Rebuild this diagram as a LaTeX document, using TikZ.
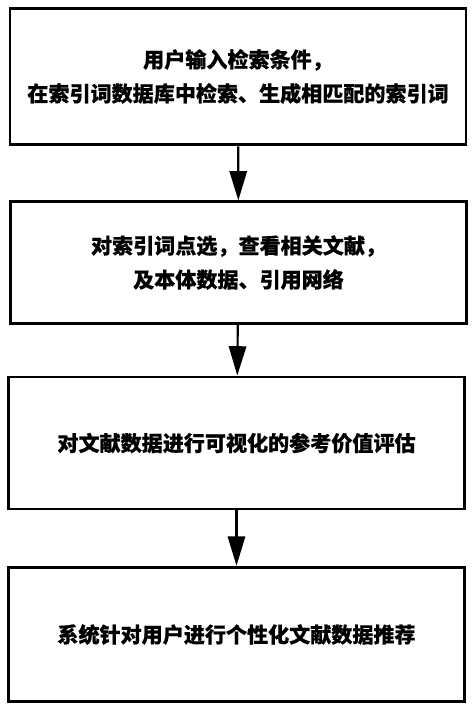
\documentclass[tikz,border=0pt]{standalone}
\usepackage{fontspec}
\setmainfont{Noto Sans CJK SC}[FakeBold=0.5]
\usetikzlibrary{positioning,arrows.meta}

\begin{document}
\begin{tikzpicture}[
    x=0.75pt,y=-0.75pt,
    >={Triangle[length=22pt,width=13pt]},
    font=\fontsize{15.8pt}{25.5pt}\selectfont\bfseries,
    stepbox/.style={draw,line width=2.2pt,minimum width=342pt,
                    align=center,inner sep=0pt},
    flow/.style={->,line width=1.6pt},
]
\useasboundingbox (0,0) rectangle (474,709);

% four steps, top to bottom
\node[stepbox,minimum height=102.5pt] (query)  at (238,76.5)
     {用户输入检索条件，\\在索引词数据库中检索、生成相匹配的索引词};
\node[stepbox,minimum height=91pt]    (browse) at (238.5,262.5)
     {对索引词点选，查看相关文献，\\及本体数据、引用网络};
\node[stepbox,minimum height=99pt]    (assess) at (236.5,443)
     {对文献数据进行可视化的参考价值评估};
\node[stepbox,minimum height=101pt]   (recom)  at (236.5,634.5)
     {系统针对用户进行个性化文献数据推荐};

% connectors
\draw[flow] (query)  -- (browse);
\draw[flow] (browse) -- (assess);
\draw[flow] (assess) -- (recom);

\end{tikzpicture}
\end{document}
